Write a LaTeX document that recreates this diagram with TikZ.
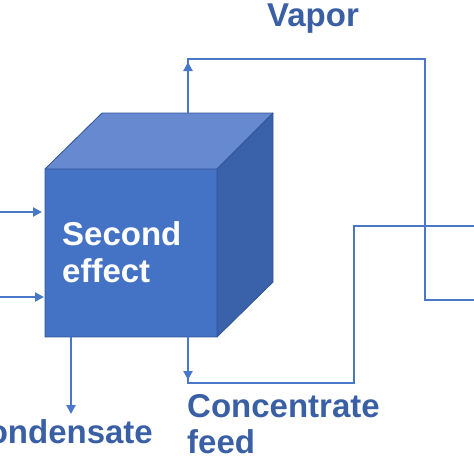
\documentclass[tikz,border=0pt]{standalone}
\usepackage{fontspec}
\setmainfont{Liberation Sans}
\usetikzlibrary{arrows.meta}
\definecolor{frontc}{HTML}{4472C4}
\definecolor{topc}{HTML}{6689CF}
\definecolor{sidec}{HTML}{3A62AA}
\definecolor{edgec}{HTML}{2F5597}
\definecolor{linec}{HTML}{4A78C8}
\definecolor{labc}{HTML}{3A5FA5}
\tikzset{
  flow/.style={draw=linec, line width=2.2pt},
  flowarrow/.style={flow, -{Triangle[length=9pt,width=9pt]}},
  face/.style={draw=edgec, line width=0.8pt, line join=miter},
  lab/.style={text=labc, font=\fontsize{33}{36}\selectfont\bfseries, inner sep=0pt},
}
\begin{document}
\begin{tikzpicture}[x=1pt,y=-1pt]
\useasboundingbox (0,0) rectangle (474,474);
% cube
\coordinate (fTL) at (45,169);
\coordinate (fTR) at (217,169);
\coordinate (fBR) at (217,337);
\coordinate (fBL) at (45,337);
\coordinate (bTL) at (102,113);
\coordinate (bTR) at (273,113);
\coordinate (bBR) at (273,282);
\fill[topc] (fTL) -- (bTL) -- (bTR) -- (fTR) -- cycle;
\fill[sidec] (fTR) -- (bTR) -- (bBR) -- (fBR) -- cycle;
\node[fill=frontc, minimum width=172pt, minimum height=168pt, inner sep=0pt, anchor=north west] (cube) at (fTL) {};
\draw[face] (fTL) -- (bTL) -- (bTR) -- (bBR) -- (fBR) -- (fBL) -- cycle;
\draw[face] (fTL) -- (fTR) -- (bTR) (fTR) -- (fBR);
\node[lab, text=white, anchor=base west] (t1) at (62,245) {Second};
\node[lab, text=white, anchor=base west] (t2) at (62,282) {effect};
% inputs
\coordinate (in1) at (0,212);
\coordinate (in1e) at (42,212);
\coordinate (in2) at (0,297);
\coordinate (in2e) at (44,297);
\draw[flowarrow] (in1) -- (in1e);
\draw[flowarrow] (in2) -- (in2e);
% vapor
\coordinate (vs) at (188,113);
\coordinate (vt) at (188,62);
\coordinate (v1) at (188,59);
\coordinate (v2) at (425,59);
\coordinate (v3) at (425,300);
\coordinate (v4) at (474,300);
\draw[flow] (vs) -- (v1) -- (v2) -- (v3) -- (v4);
\draw[flowarrow] (vs) -- (vt);
\node[lab, anchor=base west] (vapor) at (267,26) {Vapor};
% concentrate feed
\coordinate (cs) at (188,337);
\coordinate (ct) at (188,380);
\coordinate (c1) at (188,383);
\coordinate (c2) at (354,383);
\coordinate (c3) at (354,226);
\coordinate (c4) at (474,226);
\draw[flow] (cs) -- (c1) -- (c2) -- (c3) -- (c4);
\draw[flowarrow] (cs) -- (ct);
\node[lab, anchor=base west] (conc) at (187,417) {Concentrate};
\node[lab, anchor=base west] (feed) at (187,453) {feed};
% condensate
\coordinate (ds) at (71,337);
\coordinate (de) at (71,414);
\draw[flowarrow] (ds) -- (de);
\node[lab, anchor=base east] (cond) at (153,443) {Condensate};
\end{tikzpicture}
\end{document}
